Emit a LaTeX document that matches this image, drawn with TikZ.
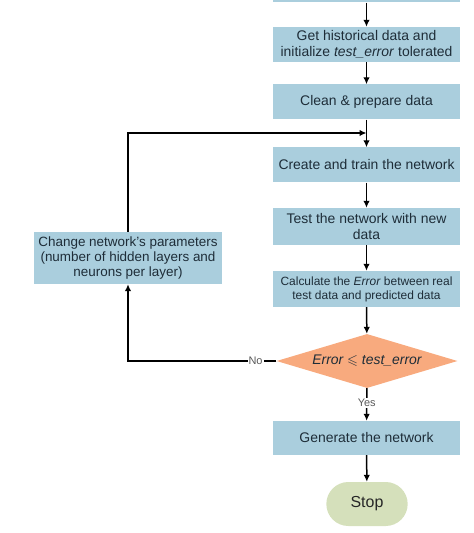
\documentclass[tikz,border=0pt]{standalone}
\usepackage{amssymb}
\usepackage{fontspec}
\setmainfont{Liberation Sans}
\usetikzlibrary{shapes.geometric, shapes.misc, arrows.meta}

\definecolor{boxblue}{RGB}{170,206,221}
\definecolor{boxtext}{RGB}{30,45,56}
\definecolor{decorange}{RGB}{248,170,126}
\definecolor{stopgreen}{RGB}{213,224,187}

\begin{document}
\begin{tikzpicture}[x=1bp, y=-1bp,
    block/.style={rectangle, fill=boxblue, text=boxtext, align=center,
        minimum width=187bp, minimum height=35bp, inner sep=2bp,
        font=\fontsize{14}{15.5}\selectfont},
    decision/.style={diamond, aspect=3.35, fill=decorange, text=boxtext, inner sep=0pt,
        minimum width=181bp, minimum height=54bp,
        font=\fontsize{14}{16}\selectfont\itshape},
    stopnode/.style={rounded rectangle, fill=stopgreen, text=black!85,
        minimum width=88bp, minimum height=44bp,
        font=\fontsize{16}{18}\selectfont},
    flow/.style={line width=1.5bp, draw=black, -{Latex[length=7bp, width=6.5bp]}},
    lbl/.style={fill=white, text=black!65, inner sep=1bp,
        font=\fontsize{11}{12}\selectfont}]

    \path[use as bounding box, clip] (0, 0) rectangle (474, 533);

    % Main column of steps
    \node[block] (start) at (366.5, -15) {};
    \node[block] (hist) at (366.5, 44.5) {Get historical data and\\initialize \textit{test\_error} tolerated};
    \node[block] (clean) at (366.5, 102) {Clean \& prepare data};
    \node[block] (train) at (366.5, 165) {Create and train the network};
    \node[block, minimum height=37bp] (test) at (366.5, 226.5) {Test the network with new\\data};
    \node[block, minimum height=36bp, font=\fontsize{12}{14}\selectfont] (calc) at (366.5, 289)
        {Calculate the \textit{Error} between real\\test data and predicted data};
    \node[decision] (check) at (367, 361) {Error $\leqslant$ test\_error};
    \node[block, minimum height=34bp] (gen) at (366.5, 438) {Generate the network};
    \node[stopnode] (stop) at (367, 504) {Stop};

    % Side box for the loop
    \node[block, minimum width=188bp, minimum height=52bp, font=\fontsize{13.5}{15}\selectfont] (change) at (128, 258)
        {Change network's parameters\\(number of hidden layers and\\neurons per layer)};

    \coordinate (join) at (366.5, 133);
    \coordinate (corner) at (128, 361);

    % Arrows down the column
    \draw[flow] (start) -- (hist);
    \draw[flow] (hist) -- (clean);
    \draw[flow] (clean) -- (train);
    \draw[flow] (train) -- (test);
    \draw[flow] (test) -- (calc);
    \draw[flow] (calc) -- (check);
    \draw[flow] (check) -- node[lbl, pos=0.45] {Yes} (gen);
    \draw[flow] (gen) -- (stop);

    % Loop back when the error is too large
    \draw[flow] (check.west) -- node[lbl, pos=0.14] {No} (corner) -- (change.south);
    \draw[flow] (change.north) |- (join);
\end{tikzpicture}
\end{document}
